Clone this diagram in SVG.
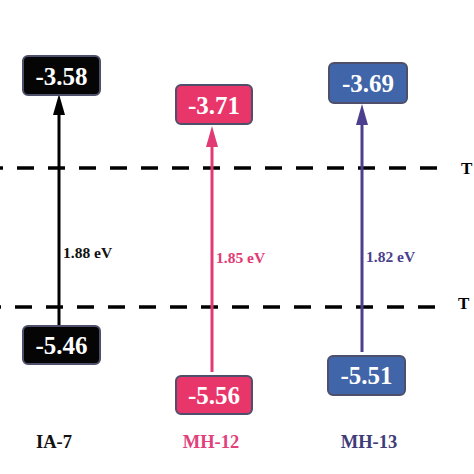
<svg xmlns="http://www.w3.org/2000/svg" width="474" height="474" viewBox="0 0 474 474">
<defs>
<style>
.dash{stroke:#000;stroke-width:3.5;stroke-dasharray:17 14;fill:none}
.box{stroke:#4d4f6b;stroke-width:2}
.val{font-family:"Liberation Serif","Times New Roman",serif;font-weight:bold;font-size:25px;fill:#fff;text-anchor:middle}
.ev{font-family:"Liberation Serif","Times New Roman",serif;font-weight:bold;font-size:15.5px}
.name{font-family:"Liberation Serif","Times New Roman",serif;font-weight:bold;font-size:18.5px;text-anchor:middle}
.edge{font-family:"Liberation Serif","Times New Roman",serif;font-weight:bold;font-size:17px;fill:#000}
</style>
</defs>
<rect width="474" height="474" fill="#fff"/>
<g id="levels">
<line class="dash" x1="0" y1="168" x2="440" y2="168" stroke-dashoffset="14"/>
<line class="dash" x1="0" y1="307" x2="440" y2="307" stroke-dashoffset="16"/>
<text class="edge" x="461" y="174">T</text>
<text class="edge" x="458" y="309">T</text>
</g>
<g id="connectors">
<line x1="59" y1="326" x2="59" y2="110" stroke="#000" stroke-width="3"/>
<path d="M59 94 L65 115 L53 115 Z" fill="#000"/>
<line x1="212" y1="372" x2="212" y2="140" stroke="#e23a74" stroke-width="3"/>
<path d="M212 126 L218 147 L206 147 Z" fill="#e23a74"/>
<line x1="362" y1="352" x2="362" y2="118" stroke="#4b3f8e" stroke-width="3"/>
<path d="M362 104 L368 125 L356 125 Z" fill="#4b3f8e"/>
<text class="ev" x="63" y="258" fill="#111">1.88 eV</text>
<text class="ev" x="216" y="263" fill="#e23a74">1.85 eV</text>
<text class="ev" x="366" y="262" fill="#4b3f8e">1.82 eV</text>
</g>
<g id="ia7-lumo"><rect class="box" x="23" y="56" width="77" height="39" rx="5" fill="#050505"/><text class="val" x="61.5" y="85">-3.58</text></g>
<g id="mh12-lumo"><rect class="box" x="176" y="85" width="76" height="39" rx="5" fill="#e8356a"/><text class="val" x="214" y="114">-3.71</text></g>
<g id="mh13-lumo"><rect class="box" x="329" y="63" width="78" height="40" rx="5" fill="#4065a8"/><text class="val" x="368" y="92">-3.69</text></g>
<g id="ia7-homo"><rect class="box" x="23" y="326" width="77" height="38" rx="5" fill="#050505"/><text class="val" x="61.5" y="354">-5.46</text></g>
<g id="mh12-homo"><rect class="box" x="176" y="376" width="76" height="38" rx="5" fill="#e8356a"/><text class="val" x="214" y="404">-5.56</text></g>
<g id="mh13-homo"><rect class="box" x="328" y="356" width="77" height="39" rx="5" fill="#4065a8"/><text class="val" x="366.5" y="384">-5.51</text></g>
<g id="labels">
<text class="name" x="54" y="448" fill="#111">IA-7</text>
<text class="name" x="211" y="448" fill="#e2407a">MH-12</text>
<text class="name" x="369" y="448" fill="#3f3c7a">MH-13</text>
</g>
</svg>
